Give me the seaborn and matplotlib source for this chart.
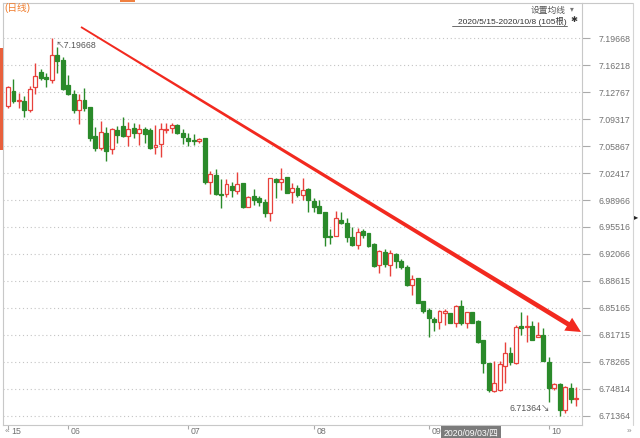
import numpy as np
import pandas as pd
import matplotlib
matplotlib.use("Agg")
import matplotlib.pyplot as plt
import matplotlib.transforms as mtransforms
from matplotlib.patches import Polygon, Rectangle
from matplotlib.lines import Line2D
import seaborn as sns

# USD/CNH daily candles, 2020/5/15 - 2020/10/8 (105 bars)
dates = pd.bdate_range("2020-05-15", "2020-10-08")

opens = [7.1100, 7.1292, 7.1160, 7.1168, 7.1049, 7.1340, 7.1535, 7.1475, 7.1433, 7.1749,
         7.1689, 7.1369, 7.1250, 7.1049, 7.1177, 7.1084, 7.0716, 7.0566, 7.0758, 7.0546,
         7.0793, 7.0848, 7.0716, 7.0815, 7.0758, 7.0802, 7.0793, 7.0572, 7.0610, 7.0793,
         7.0819, 7.0857, 7.0758, 7.0687, 7.0665, 7.0656, 7.0687, 7.0124, 7.0217, 6.9970,
         6.9970, 7.0076, 7.0016, 7.0111, 6.9811, 6.9948, 6.9926, 6.9871, 6.9727, 7.0170,
         7.0124, 7.0191, 7.0003, 7.0054, 6.9961, 7.0038, 6.9888, 6.9820, 6.9747, 6.9436,
         6.9436, 6.9641, 6.9599, 6.9420, 6.9321, 6.9504, 6.9471, 6.9334, 6.9065, 6.9228,
         6.9065, 6.9206, 6.9116, 6.9043, 6.8809, 6.8895, 6.8604, 6.8489, 6.8370, 6.8339,
         6.8447, 6.8447, 6.8326, 6.8540, 6.8319, 6.8460, 6.8348, 6.8105, 6.7815, 6.7452,
         6.7465, 6.7772, 6.7943, 6.7807, 6.8284, 6.8275, 6.8288, 6.8147, 6.8169, 6.7827,
         6.7487, 6.7542, 6.7209, 6.7487, 6.7350]

highs = [7.1356, 7.1442, 7.1270, 7.1228, 7.1356, 7.1647, 7.1570, 7.1519, 7.19668, 7.1859,
         7.1731, 7.1497, 7.1305, 7.1254, 7.1327, 7.1091, 7.0835, 7.0912, 7.0828, 7.0822,
         7.0844, 7.0963, 7.0892, 7.0879, 7.0870, 7.0835, 7.0815, 7.0857, 7.0887, 7.0887,
         7.0887, 7.0866, 7.0802, 7.0751, 7.0742, 7.0687, 7.0694, 7.0272, 7.0290, 7.0162,
         7.0162, 7.0131, 7.0259, 7.0111, 6.9948, 7.0034, 6.9948, 6.9906, 7.0175, 7.0179,
         7.0303, 7.0191, 7.0111, 7.0089, 7.0175, 7.0047, 6.9926, 6.9897, 6.9747, 6.9526,
         6.9756, 6.9747, 6.9663, 6.9548, 6.9535, 6.9522, 6.9479, 6.9343, 6.9257, 6.9266,
         6.9257, 6.9215, 6.9146, 6.9059, 6.8937, 6.8895, 6.8604, 6.8511, 6.8403, 6.8489,
         6.8498, 6.8455, 6.8553, 6.8617, 6.8467, 6.8467, 6.8361, 6.8105, 6.7815, 6.7836,
         6.7836, 6.8083, 6.8019, 6.8297, 6.8459, 6.8425, 6.8348, 6.8339, 6.8255, 6.7891,
         6.7551, 6.7551, 6.7516, 6.7551, 6.7506]

lows = [7.1071, 7.1142, 7.1071, 7.0963, 7.1027, 7.1250, 7.1433, 7.1347, 7.1391, 7.1519,
        7.1305, 7.1241, 7.1007, 7.0866, 7.1036, 7.0652, 7.0528, 7.0537, 7.0396, 7.0486,
        7.0623, 7.0707, 7.0588, 7.0687, 7.0601, 7.0623, 7.0550, 7.0486, 7.0451, 7.0751,
        7.0751, 7.0745, 7.0610, 7.0588, 7.0601, 7.0630, 7.0098, 6.9970, 6.9961, 6.9798,
        6.9939, 6.9939, 6.9970, 6.9798, 6.9804, 6.9833, 6.9820, 6.9676, 6.9632, 6.9926,
        7.0025, 6.9990, 6.9862, 6.9939, 6.9897, 6.9747, 6.9747, 6.9727, 6.9312, 6.9330,
        6.9430, 6.9590, 6.9363, 6.9308, 6.9270, 6.9407, 6.9299, 6.9043, 6.8966, 6.9043,
        6.8928, 6.9030, 6.9010, 6.8790, 6.8681, 6.8575, 6.8451, 6.8140, 6.8220, 6.8242,
        6.8297, 6.8319, 6.8275, 6.8297, 6.8255, 6.8319, 6.8063, 6.7679, 6.7435, 6.7443,
        6.7452, 6.7551, 6.7785, 6.7794, 6.8169, 6.8083, 6.8099, 6.8144, 6.7836, 6.7315,
        6.7465, 6.71364, 6.7177, 6.7295, 6.7260]

closes = [7.1340, 7.1168, 7.1171, 7.1049, 7.1314, 7.1484, 7.1462, 7.1442, 7.1749, 7.1680,
          7.1314, 7.1250, 7.1049, 7.1177, 7.1071, 7.0694, 7.0559, 7.0764, 7.0528, 7.0802,
          7.0725, 7.0720, 7.0810, 7.0758, 7.0810, 7.0738, 7.0566, 7.0601, 7.0802, 7.0810,
          7.0857, 7.0751, 7.0700, 7.0656, 7.0652, 7.0678, 7.0131, 7.0230, 6.9970, 6.9961,
          7.0098, 7.0025, 7.0102, 6.9804, 6.9939, 6.9897, 6.9871, 6.9727, 7.0175, 7.0131,
          7.0166, 6.9990, 7.0047, 6.9961, 7.0025, 6.9897, 6.9811, 6.9727, 6.9427, 6.9420,
          6.9663, 6.9599, 6.9420, 6.9321, 6.9491, 6.9449, 6.9312, 6.9052, 6.9244, 6.9078,
          6.9215, 6.9116, 6.9043, 6.8803, 6.8882, 6.8585, 6.8476, 6.8383, 6.8336, 6.8476,
          6.8476, 6.8326, 6.8544, 6.8319, 6.8467, 6.8326, 6.8083, 6.7807, 6.7465, 6.7551,
          6.7798, 6.7935, 6.7828, 6.8275, 6.8262, 6.8288, 6.8105, 6.8169, 6.7840, 6.7494,
          6.7538, 6.7209, 6.7499, 6.7346, 6.7363]

y_ticks = [7.19668, 7.16218, 7.12767, 7.09317, 7.05867, 7.02417, 6.98966, 6.95516,
           6.92066, 6.88615, 6.85165, 6.81715, 6.78265, 6.74814, 6.71364]
y_tick_labels = ["%.5f" % v for v in y_ticks]
weekday_cn = ["一", "二", "三", "四", "五", "六", "日"]
crosshair_date = "2020-09-03"

df = pd.DataFrame({"date": dates, "open": opens, "high": highs, "low": lows, "close": closes})
df["x"] = np.arange(len(df))
df["up"] = df["close"] >= df["open"]

sns.set_theme(style="white")
plt.rcParams["font.family"] = ["Liberation Sans", "Noto Sans CJK SC", "DejaVu Sans"]

W, H = 640, 438
fig = plt.figure(figsize=(W / 100, H / 100), dpi=100)
fig.patch.set_facecolor("white")
ax = fig.add_axes([3 / W, 13 / H, 578.7 / W, (425 - 3.3) / H])
ax.set_facecolor("white")

up_color = "#e8413c"
down_color = "#2a8a2a"
edge = np.where(df["up"], up_color, down_color)
fill = np.where(df["up"], "white", down_color)

# wicks then bodies (hollow red = up, solid green = down)
ax.vlines(df["x"], df["low"], df["high"], colors=edge, lw=1.0, zorder=2)
body_bottom = df[["open", "close"]].min(axis=1)
body_h = (df["close"] - df["open"]).abs().clip(lower=0.0004)
ax.bar(df["x"], body_h, bottom=body_bottom, width=0.72, color=fill,
       edgecolor=edge, linewidth=0.9, zorder=3)

ax.set_xlim(-0.92, len(df) + 0.04)
ax.set_ylim(6.7017, 7.2415)

# y axis on the right
ax.yaxis.tick_right()
ax.set_yticks(y_ticks, y_tick_labels)
ax.tick_params(axis="y", direction="out", length=6, width=0.8, colors="#aaaaaa",
               labelcolor="#707070", labelsize=6.3, pad=6, left=False, right=True)
ax.grid(axis="y", linestyle=(0, (1, 2.5)), color="#c4c4c4", lw=0.8, zorder=0)
ax.grid(axis="x", visible=False)

# month ticks, label sits beside the tick mark
month_start = df.groupby(df["date"].dt.to_period("M"))["x"].min().tolist()
month_labels = [df["date"].iloc[month_start[0]].strftime("%d")] + \
    [df["date"].iloc[i].strftime("%m") for i in month_start[1:]]
ax.set_xticks(month_start, month_labels)
ax.tick_params(axis="x", direction="out", length=3, width=0.8, colors="#aaaaaa",
               labelcolor="#707070", labelsize=6.3, pad=-1.5, bottom=True)
shift = mtransforms.ScaledTranslation(2 / 72, 0, fig.dpi_scale_trans)
for lab in ax.get_xticklabels():
    lab.set_ha("left")
    lab.set_transform(lab.get_transform() + shift)

for s in ax.spines.values():
    s.set_color("#c8c8c8")
    s.set_linewidth(0.8)

# high / low markers
i_max = int(df["high"].idxmax())
i_min = int(df["low"].idxmin())
ax.annotate("↖%.5f" % df["high"].max(), xy=(i_max, df["high"].max()), xytext=(4, -7),
            textcoords="offset pixels", ha="left", va="center", size=6.3, color="#555555")
ax.annotate("%.5f↘" % df["low"].min(), xy=(i_min, df["low"].min()), xytext=(-9, 7),
            textcoords="offset pixels", ha="right", va="center", size=6.3, color="#555555")

# crosshair date box, nudged just right of the "09" label
ci = int(df.index[df["date"] == crosshair_date][0])
cd = df["date"].iloc[ci]
blend = mtransforms.blended_transform_factory(ax.transData, ax.transAxes)
nudge = mtransforms.ScaledTranslation(4 / 100, 0, fig.dpi_scale_trans)
ax.text(ci, -0.008, cd.strftime("%Y/%m/%d/") + weekday_cn[cd.weekday()],
        transform=blend + nudge, ha="left", va="top", size=6.3, color="white",
        clip_on=False, zorder=10,
        bbox=dict(boxstyle="square,pad=0.25", fc="#7b7b7b", ec="none"))

# hand-drawn trend arrow (pixel space, top-left origin)
S = np.array([81.0, 27.0])
T = np.array([581.0, 332.0])
u = (T - S) / np.linalg.norm(T - S)
n = np.array([-u[1], u[0]])
B = T - 15 * u
pts = [S + 0.9 * n, B + 2.4 * n, B + 7.5 * n, T, B - 7.5 * n, B - 2.4 * n, S - 0.9 * n]
pts = [(p[0], H - p[1]) for p in pts]
fig.add_artist(Polygon(pts, closed=True, transform=mtransforms.IdentityTransform(),
                       fc="#f2291f", ec="none", zorder=20))

# frame bits and header texts
fig.add_artist(Line2D([581.7 / W, 633 / W], [1 - 3.3 / H, 1 - 3.3 / H], color="#c8c8c8", lw=0.8))
fig.add_artist(Line2D([633 / W, 633 / W], [1 - 3.3 / H, 1 - 425 / H], color="#d4d4d4", lw=0.8))
fig.add_artist(Rectangle((0, 1 - 150 / H), 2.5 / W, 102 / H, transform=fig.transFigure,
                         fc="#e8603c", ec="none"))
fig.add_artist(Rectangle((120 / W, 1 - 1.5 / H), 15 / W, 1.5 / H, transform=fig.transFigure,
                         fc="#f08040", ec="none"))

fig.text(4 / W, 1 - 8 / H, "(日线)", color="#f07f30", size=7, va="center", ha="left")
fig.text(566 / W, 1 - 10 / H, "设置均线", color="#555555", size=6.3, va="center", ha="right")
fig.text(572 / W, 1 - 10 / H, "▾", color="#777777", size=5.5, va="center", ha="center")
fig.text(567 / W, 1 - 21 / H, "2020/5/15-2020/10/8 (105根)", color="#333333", size=6,
         va="center", ha="right")
fig.add_artist(Line2D([452 / W, 567 / W], [1 - 25.5 / H, 1 - 25.5 / H], color="#555555", lw=0.6))
fig.text(574 / W, 1 - 21 / H, "✱", color="#333333", size=6, va="center", ha="center")
fig.text(5 / W, 1 - 431 / H, "«", color="#888888", size=6, va="center", ha="left")
fig.text(631 / W, 1 - 431 / H, "»", color="#888888", size=6, va="center", ha="right")
fig.text(636 / W, 1 - 218 / H, "▸", color="#222222", size=6, va="center", ha="center")

fig.savefig("out.png", dpi=100)
plt.close(fig)
